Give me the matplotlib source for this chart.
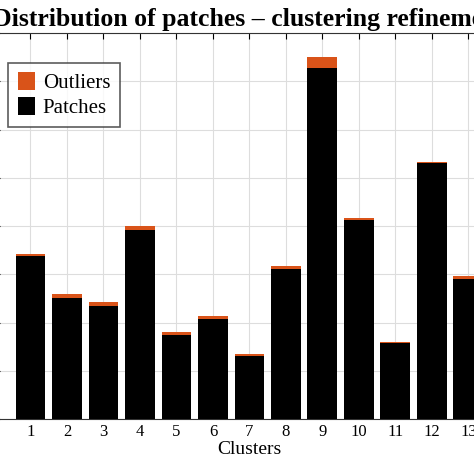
import numpy as np
import matplotlib.pyplot as plt

clusters = np.arange(1, 14)
patches = [337, 251, 234, 391, 174, 207, 130, 311, 727, 412, 157, 530, 290]
outliers = [6, 9, 9, 10, 6, 6, 4, 7, 24, 5, 2, 2, 6]

plt.rcParams['font.family'] = ['Liberation Serif', 'DejaVu Serif']

fig = plt.figure(figsize=(4.74, 4.74), dpi=100)
ax = fig.add_axes([-0.0127, 0.116, 1.078, 0.814])

ax.bar(clusters, patches, width=0.82, color='black', label='Patches', zorder=3)
ax.bar(clusters, outliers, width=0.82, bottom=patches, color='#D95319', label='Outliers', zorder=3)

ax.set_xlim(0, 14)
ax.set_ylim(0, 800)
ax.set_xticks(clusters)
ax.set_yticks(np.arange(0, 801, 100))
ax.set_yticklabels([])
ax.tick_params(direction='in', top=True, right=True, labelsize=12, length=4)
ax.grid(True, color='#dddddd', linewidth=0.8, zorder=0)
for s in ax.spines.values():
    s.set_color('#333333')

ax.set_xlabel('Clusters', fontsize=14, labelpad=1)
ax.set_title('Distribution of patches – clustering refinement', fontsize=18.5,
             fontweight='bold', pad=5)

h, l = ax.get_legend_handles_labels()
leg = ax.legend(h[::-1], l[::-1], loc='upper left', fontsize=15, fancybox=False,
                edgecolor='#333333', handlelength=0.8, handleheight=0.9,
                handletextpad=0.4, borderpad=0.45, labelspacing=0.2,
                bbox_to_anchor=(0.008, 0.95))
leg.get_frame().set_linewidth(1.2)

fig.savefig('out.png', dpi=100)
